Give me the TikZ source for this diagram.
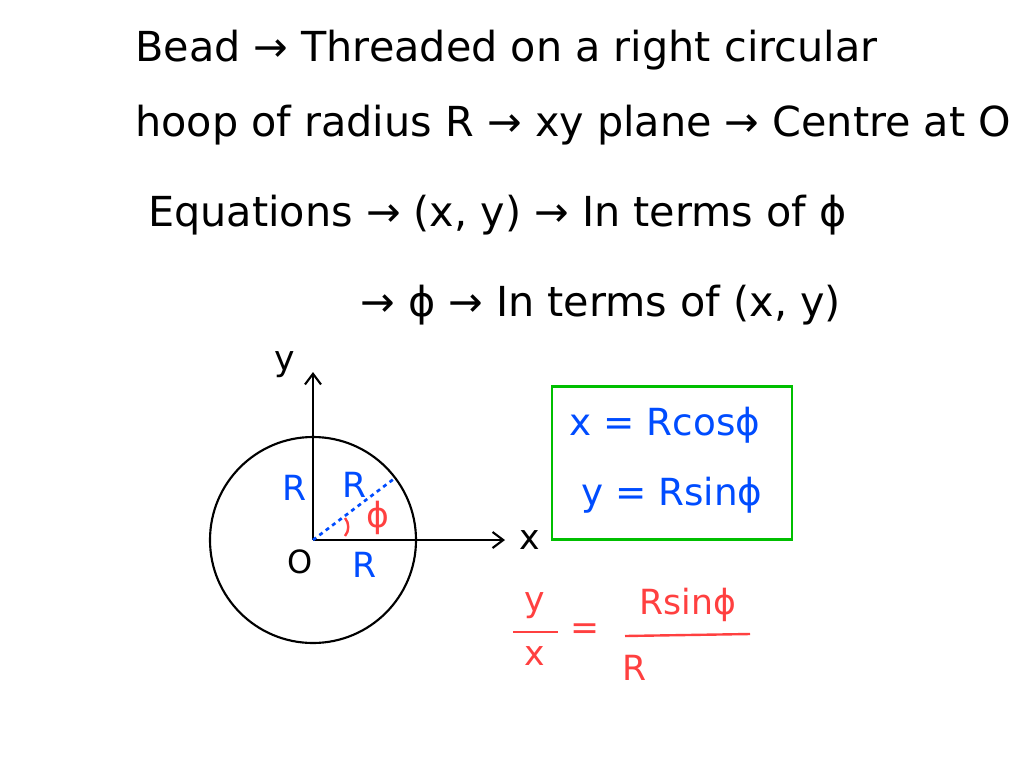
\documentclass[tikz,border=0pt]{standalone}
\usepackage{fontspec}
\setmainfont{DejaVu Sans}
\usetikzlibrary{arrows.meta}
\begin{document}
\begin{tikzpicture}[x=0.75pt,y=-0.75pt,
  big/.style={font=\fontsize{31}{36}\selectfont,anchor=west,inner sep=0},
  blu/.style={font=\fontsize{26}{30}\selectfont,text=blue!70!cyan,inner sep=0},
  rd/.style={font=\fontsize{26}{30}\selectfont,text=red!75!white,inner sep=0}]
\useasboundingbox (0,0) rectangle (1024,768);
\node[big] (l1) at (135,50) {Bead → Threaded on a right circular};
\node[big] (l2) at (135,125) {hoop of radius R → xy plane → Centre at O};
\node[big] (l3) at (148,215) {Equations → (x, y) → In terms of ϕ};
\node[big] (l4) at (360,305) {→ ϕ → In terms of (x, y)};
\coordinate (o) at (313,540);
\node[draw,circle,line width=1.6pt,minimum size=206*0.75pt,inner sep=0] (c) at (o) {};
\coordinate (ytop) at (313,372);
\coordinate (xend) at (505,540);
\draw[line width=1.6pt,-{Straight Barb[length=8pt,width=12pt]}] (o) -- (ytop);
\draw[line width=1.6pt,-{Straight Barb[length=8pt,width=12pt]}] (o) -- (xend);
\node[font=\fontsize{26}{30}\selectfont] (yl) at (285,365) {y};
\node[font=\fontsize{26}{30}\selectfont] (xl) at (530,540) {x};
\node[font=\fontsize{24}{28}\selectfont] (ol) at (300,562) {O};
\coordinate (pe) at (395,478);
\draw[blue!70!cyan,line width=2pt,dashed] (o) -- (pe);
\draw[red!75!white,line width=1.8pt] (345,518) arc[start angle=-40,end angle=40,radius=14];
\node[rd] (phi) at (378,518) {ϕ};
\node[blu] (r1) at (295,488) {R};
\node[blu] (r2) at (355,485) {R};
\node[blu] (r3) at (365,565) {R};
\node[draw=green!75!black,line width=1.8pt,minimum width=240*0.75pt,minimum height=153*0.75pt] (box) at (672,463) {};
\node[blu,font=\fontsize{28}{32}\selectfont] (e1) at (665,425) {x = Rcosϕ};
\node[blu,font=\fontsize{28}{32}\selectfont] (e2) at (672,495) {y = Rsinϕ};
\node[rd] (ny) at (535,606) {y};
\draw[red!75!white,line width=1.8pt] (513,632) -- (558,632);
\node[rd] (dx) at (535,656) {x};
\node[rd] (eq) at (585,632) {=};
\node[rd] (nr) at (688,605) {Rsinϕ};
\draw[red!75!white,line width=1.8pt] (625,636) -- (750,634);
\node[rd] (dr) at (635,668) {R};
\end{tikzpicture}
\end{document}
